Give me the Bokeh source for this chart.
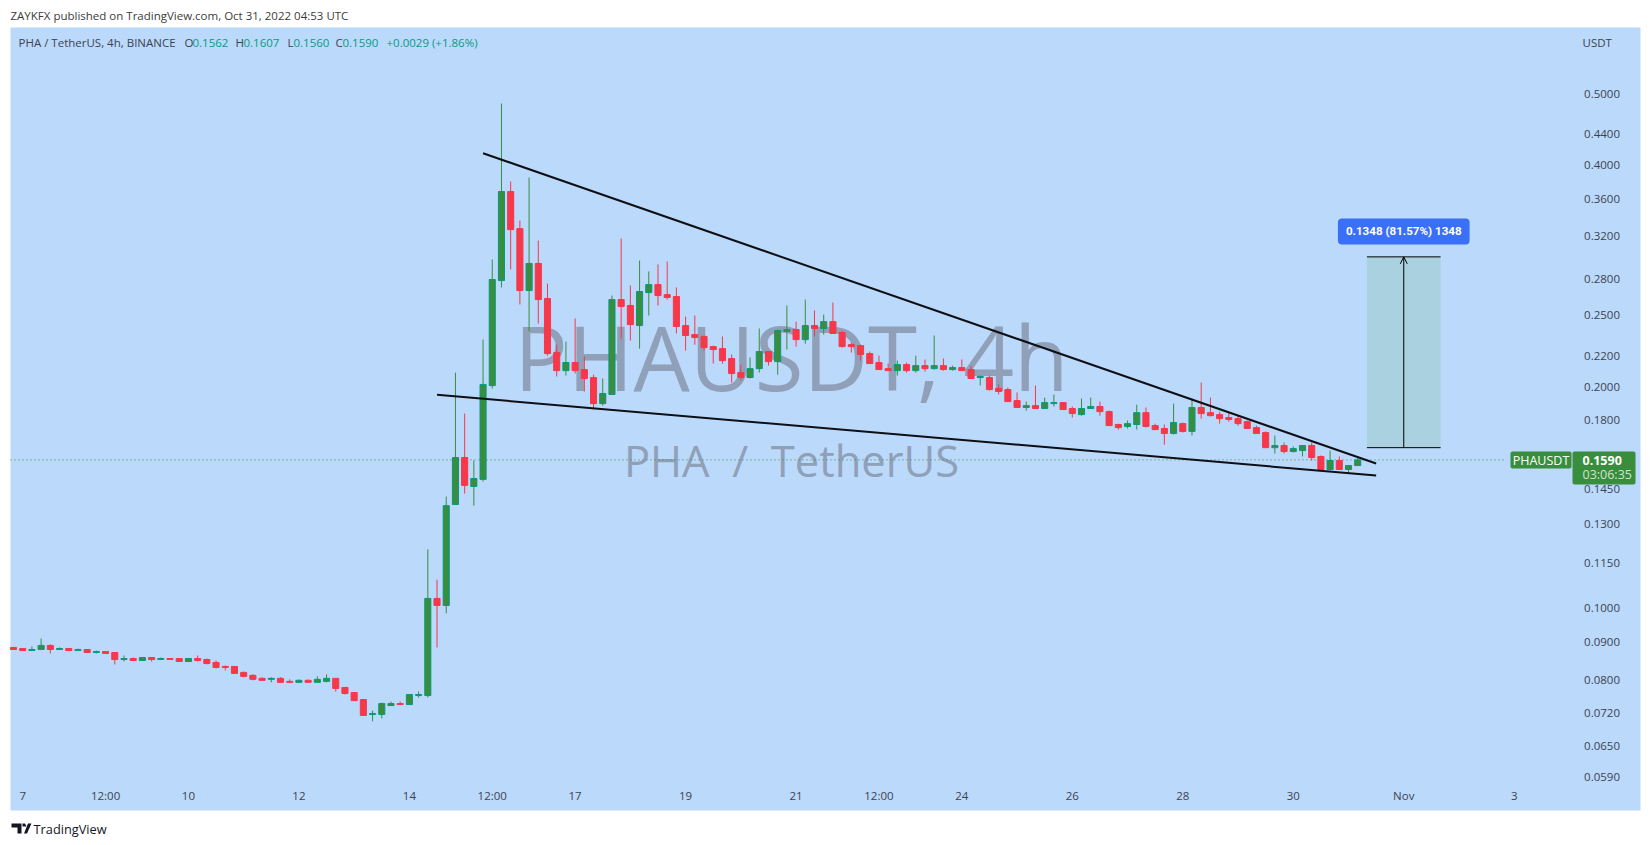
from bokeh.plotting import figure
from bokeh.embed import file_html
from bokeh.resources import INLINE
from bokeh.models import (LogAxis, LinearAxis, FixedTicker, PrintfTickFormatter, Label,
                          BoxAnnotation, PolyAnnotation, Arrow, OpenHead, Range1d, ColumnDataSource)

opens = [.08844,.08816,.0876,.08788,.0890,.08788,.08816,.0876,.08788,.08706,.08733,.08706,.08517,.08544,.0849,.08571,.08517,.08544,.08544,.08464,
 .08544,.08517,.08438,.08334,.08334,.0818,.08105,.0803,.08005,.0803,.07955,.0793,.0798,.0793,.07955,.0803,.07805,.07682,.07514,.07172,
 .07172,.07375,.07421,.07398,.0761,.0761,.1031,.10085,.1383,.1602,.1463,.1496,.2006,.2786,.3680,.3277,.2700,.2939,.2634,.2224,
 .2102,.2156,.2109,.2057,.1896,.1951,.2625,.2577,.2420,.2683,.2751,.2666,.2650,.2420,.2353,.2339,.2266,.2252,.2183,.2089,
 .2057,.2115,.2231,.2162,.2376,.2390,.2316,.2420,.2398,.2450,.2368,.2280,.2273,.2217,.2156,.2115,.2102,.2142,.2102,.2135,
 .2115,.2135,.2109,.2122,.2109,.2057,.2057,.1988,.1981,.1914,.1873,.1884,.1867,.1896,.1902,.1867,.1832,.1867,.1879,.1849,
 .1776,.1765,.1776,.1843,.1770,.1754,.1727,.1781,.1738,.1873,.1843,.1832,.1815,.1809,.1792,.1759,.1732,.1652,.1663,.1632,
 .1637,.1663,.1607,.1543,.1587,.1543,.1562]
highs = [.08844,.08816,.08872,.09096,.0893,.08844,.08816,.08816,.08788,.0876,.08733,.08706,.08625,.08571,.08571,.08571,.08571,.08544,.08544,.08544,
 .08625,.08544,.0849,.0836,.08334,.08205,.0813,.08055,.08055,.08055,.08005,.08005,.08005,.0808,.0813,.0803,.07805,.07682,.07514,.0726,
 .07444,.07467,.07467,.07634,.07706,.1202,.1093,.1418,.2089,.1838,.1587,.2316,.2975,.4846,.3797,.3361,.3845,.3157,.2760,.2280,
 .2302,.2474,.2197,.2076,.2051,.2658,.3177,.2743,.2966,.2866,.2930,.2957,.2726,.2489,.2497,.2346,.2273,.2339,.2210,.2142,
 .2190,.2398,.2231,.2390,.2577,.2450,.2625,.2537,.2505,.2601,.2383,.2295,.2280,.2231,.2203,.2149,.2169,.2156,.2203,.2176,
 .2346,.2183,.2135,.2176,.2135,.2070,.2070,.2013,.1994,.1963,.1908,.2006,.1932,.1951,.1902,.1879,.1926,.1932,.1908,.1855,
 .1781,.1798,.1890,.1873,.1781,.1776,.1896,.1787,.1926,.2025,.1932,.1849,.1843,.1826,.1798,.1770,.1738,.1716,.1679,.1658,
 .1663,.1679,.1612,.1637,.1607,.1562,.1607]
lows = [.08788,.0876,.0876,.08788,.08679,.08788,.0876,.0876,.08706,.08679,.08679,.08386,.08464,.0849,.0849,.08464,.08517,.08517,.08464,.08464,
 .08464,.08386,.08282,.0823,.08155,.08055,.0798,.0798,.0793,.0793,.0793,.0793,.0793,.0793,.0793,.07706,.07634,.0749,.0715,.0702,
 .07084,.07375,.07398,.07398,.07562,.07562,.08844,.0984,.1383,.1431,.1378,.1486,.1988,.2726,.2884,.2585,.2376,.2435,.2203,.2064,
 .2070,.2083,.1969,.1861,.1884,.1951,.2324,.2309,.2252,.2497,.2577,.2625,.2361,.2238,.2280,.2238,.2149,.2149,.2025,.2038,
 .2051,.2089,.2135,.2076,.2245,.2266,.2287,.2339,.2353,.2361,.2259,.2224,.2169,.2149,.2109,.2102,.2070,.2089,.2089,.2096,
 .2109,.2102,.2102,.2102,.2051,.2006,.1975,.1951,.1908,.1873,.1855,.1867,.1867,.1879,.1861,.1815,.1826,.1867,.1826,.1770,
 .1748,.1754,.1748,.1759,.1748,.1668,.1721,.1732,.1716,.1809,.1821,.1781,.1792,.1770,.1754,.1727,.1652,.1622,.1622,.1627,
 .1607,.1587,.1543,.1538,.1543,.1524,.1560]
closes = [.08788,.0876,.08788,.0890,.08788,.08816,.0876,.08788,.08706,.08733,.08679,.08517,.08544,.0849,.08571,.08517,.08544,.08517,.08464,.08544,
 .0849,.08412,.08308,.08308,.08155,.0808,.08005,.0798,.0803,.0793,.0793,.0798,.0793,.08005,.0803,.0778,.07658,.0749,.0715,.07194,
 .07421,.07421,.07398,.07634,.07634,.1031,.10085,.1378,.1602,.1468,.1500,.2013,.2795,.3680,.3267,.2700,.2939,.2625,.2217,.2102,
 .2156,.2102,.2051,.1896,.1957,.2625,.2569,.2428,.2692,.2751,.2658,.2642,.2413,.2346,.2331,.2259,.2245,.2169,.2083,.2057,
 .2115,.2231,.2162,.2383,.2390,.2316,.2420,.2398,.2450,.2361,.2266,.2266,.2210,.2149,.2109,.2102,.2142,.2102,.2135,.2115,
 .2135,.2109,.2122,.2102,.2051,.2064,.1981,.1969,.1908,.1873,.1884,.1867,.1902,.1902,.1861,.1838,.1867,.1879,.1849,.1770,
 .1759,.1781,.1843,.1765,.1748,.1727,.1787,.1738,.1873,.1838,.1826,.1809,.1804,.1781,.1754,.1727,.1652,.1663,.1632,.1647,
 .1663,.1602,.1543,.1587,.1543,.1562,.1590]

price_ticks = [.5,.44,.40,.36,.32,.28,.25,.22,.20,.18,.145,.13,.115,.10,.09,.08,.072,.065,.059]
time_ticks = [1,10,19,31,43,52,61,73,85,94,103,115,127,139,151,163]
time_labels = ["7","12:00","10","12","14","12:00","17","19","21","12:00","24","26","28","30","Nov","3"]

upper_trend_x = [51, 148]
upper_trend_y = [.4148, .1572]
lower_trend_x = [46, 148]
lower_trend_y = [.1949, .1514]
target_x = [147, 155]
target_y = [.1652, .3000]
last_price = .1590

BG = "#bbd9fb"
GREEN = "#388e3c"
TEAL = "#089981"
RED = "#f7374a"
TXT = "#3c4350"
FONT = "Open Sans"

# The frame fills the whole canvas so header and footer text can sit around the chart pane.
p = figure(width=1650, height=845, output_backend="svg", toolbar_location=None,
           y_axis_type="log", x_axis_location=None, y_axis_location=None,
           x_range=Range1d(-1.412, 177.8), y_range=Range1d(.04761, .6688),
           min_border_left=0, min_border_right=0, min_border_top=0, min_border_bottom=0,
           background_fill_color="white", border_fill_color="white", outline_line_color=None)
p.grid.visible = False


def at(x, y, text, size=12, color=TXT, style="normal", align="left", level="overlay", font=FONT, **kw):
    l = Label(x=x, y=845 - y, x_units="screen", y_units="screen", text=text,
              text_font=font, text_font_size=f"{size}px", text_color=color, text_font_style=style,
              text_align=align, text_baseline="middle", level=level, **kw)
    p.add_layout(l)
    return l


def box(x0, x1, y0, y1, color, level="overlay", radius=2):
    p.add_layout(BoxAnnotation(left=x0, right=x1, top=845 - y0, bottom=845 - y1,
                               left_units="screen", right_units="screen", top_units="screen", bottom_units="screen",
                               fill_color=color, fill_alpha=1, line_color=None, level=level, border_radius=radius))


# chart pane and watermark
box(10, 1640, 27, 810, BG, level="underlay", radius=0)
at(791, 356, "PHAUSDT, 4h", size=89, color="#8fa0b8", align="center", level="underlay")
at(791, 460, "PHA\u00a0 /\u00a0 TetherUS", size=43.5, color="#8fa0b8", align="center", level="underlay")
p.segment(x0=[-0.33], x1=[162], y0=[last_price], y1=[last_price], line_color=GREEN, line_dash="1 3", line_width=1)

# axes drawn inside the pane
yax = LogAxis(ticker=FixedTicker(ticks=price_ticks), formatter=PrintfTickFormatter(format="%.4f"),
              fixed_location=169.5, axis_line_color=None, major_tick_line_color=None, minor_tick_line_color=None,
              major_label_text_font=FONT, major_label_text_font_size="11.5px", major_label_text_color=TXT,
              major_label_standoff=4)
p.add_layout(yax, "right")
xax = LinearAxis(ticker=FixedTicker(ticks=time_ticks),
                 major_label_overrides=dict(zip(time_ticks, time_labels)),
                 fixed_location=.0585, axis_line_color=None, major_tick_line_color=None, minor_tick_line_color=None,
                 major_label_text_font=FONT, major_label_text_font_size="11.5px", major_label_text_color=TXT,
                 major_label_standoff=2)
p.add_layout(xax, "below")

# candles
idx = list(range(len(opens)))
up = [i for i in idx if closes[i] >= opens[i]]
dn = [i for i in idx if closes[i] < opens[i]]
for sel, wick, fill, edge in ((up, GREEN, GREEN, TEAL), (dn, RED, RED, RED)):
    src = ColumnDataSource(dict(x=sel, o=[opens[i] for i in sel], h=[highs[i] for i in sel],
                                l=[lows[i] for i in sel], c=[closes[i] for i in sel]))
    p.segment("x", "l", "x", "h", source=src, line_color=wick, line_width=1)
    p.vbar("x", width=0.66, bottom="o", top="c", source=src, fill_color=fill, line_color=edge, line_width=1)

# trend lines
p.line(upper_trend_x, upper_trend_y, line_color="#0d0f14", line_width=2)
p.line(lower_trend_x, lower_trend_y, line_color="#0d0f14", line_width=2)

# target box
p.quad(left=target_x[0], right=target_x[1], bottom=target_y[0], top=target_y[1], fill_color="#a9d1df", line_color=None)
p.segment(x0=[target_x[0]] * 2, x1=[target_x[1]] * 2, y0=target_y, y1=target_y, line_color="black", line_width=1)
mid = sum(target_x) / 2
p.add_layout(Arrow(x_start=mid, y_start=target_y[0], x_end=mid, y_end=target_y[1], line_color="black", line_width=1,
                   end=OpenHead(size=7, line_color="black", line_width=1)))
p.add_layout(Label(x=mid, y=.3248, text="0.1348 (81.57%) 1348", text_font="Roboto", text_font_size="11.6px",
                   text_font_style="bold", text_color="white", text_align="center", text_baseline="middle",
                   background_fill_color="#3a6ff7", padding=(8, 6), border_radius=4, level="overlay"))

# price tags
box(1510, 1571, 451, 468, GREEN)
box(1572, 1635, 451, 484, GREEN)
at(1540.5, 460, "PHAUSDT", color="white", size=12.5, align="center")
at(1582, 460, "0.1590", color="white", size=12.5, style="bold")
at(1582, 474, "03:06:35", color="#cfe3d0", size=12.5)

# header and footer
at(10, 15, "ZAYKFX published on TradingView.com, Oct 31, 2022 04:53 UTC", size=11.5, color="#3c3c3c")
at(18, 42, "PHA / TetherUS, 4h, BINANCE", size=11.5)
for x, t, c in ((184, "O", TXT), (192, "0.1562", TEAL), (235, "H", TXT), (243, "0.1607", TEAL), (287, "L", TXT),
                (293, "0.1560", TEAL), (335, "C", TXT), (342, "0.1590", TEAL), (386, "+0.0029 (+1.86%)", TEAL)):
    at(x, 42, t, size=11.5, color=c)
at(1582, 42, "USDT", size=11.5)
at(33, 828, "TradingView", size=12.8, color="#131722")


def poly(xs, ys):
    p.add_layout(PolyAnnotation(xs=list(xs), ys=[845 - y for y in ys], xs_units="screen", ys_units="screen",
                                fill_color="#131722", fill_alpha=1, line_color=None, level="overlay"))


poly([11, 21, 21, 17, 17, 11], [823, 823, 833, 833, 827, 827])
poly([22, 24.5, 26, 22], [823, 823, 826, 826])
poly([23.5, 27.5, 31, 26.5], [833, 823, 823, 833])

open("out.html", "w").write(file_html(p, INLINE))
